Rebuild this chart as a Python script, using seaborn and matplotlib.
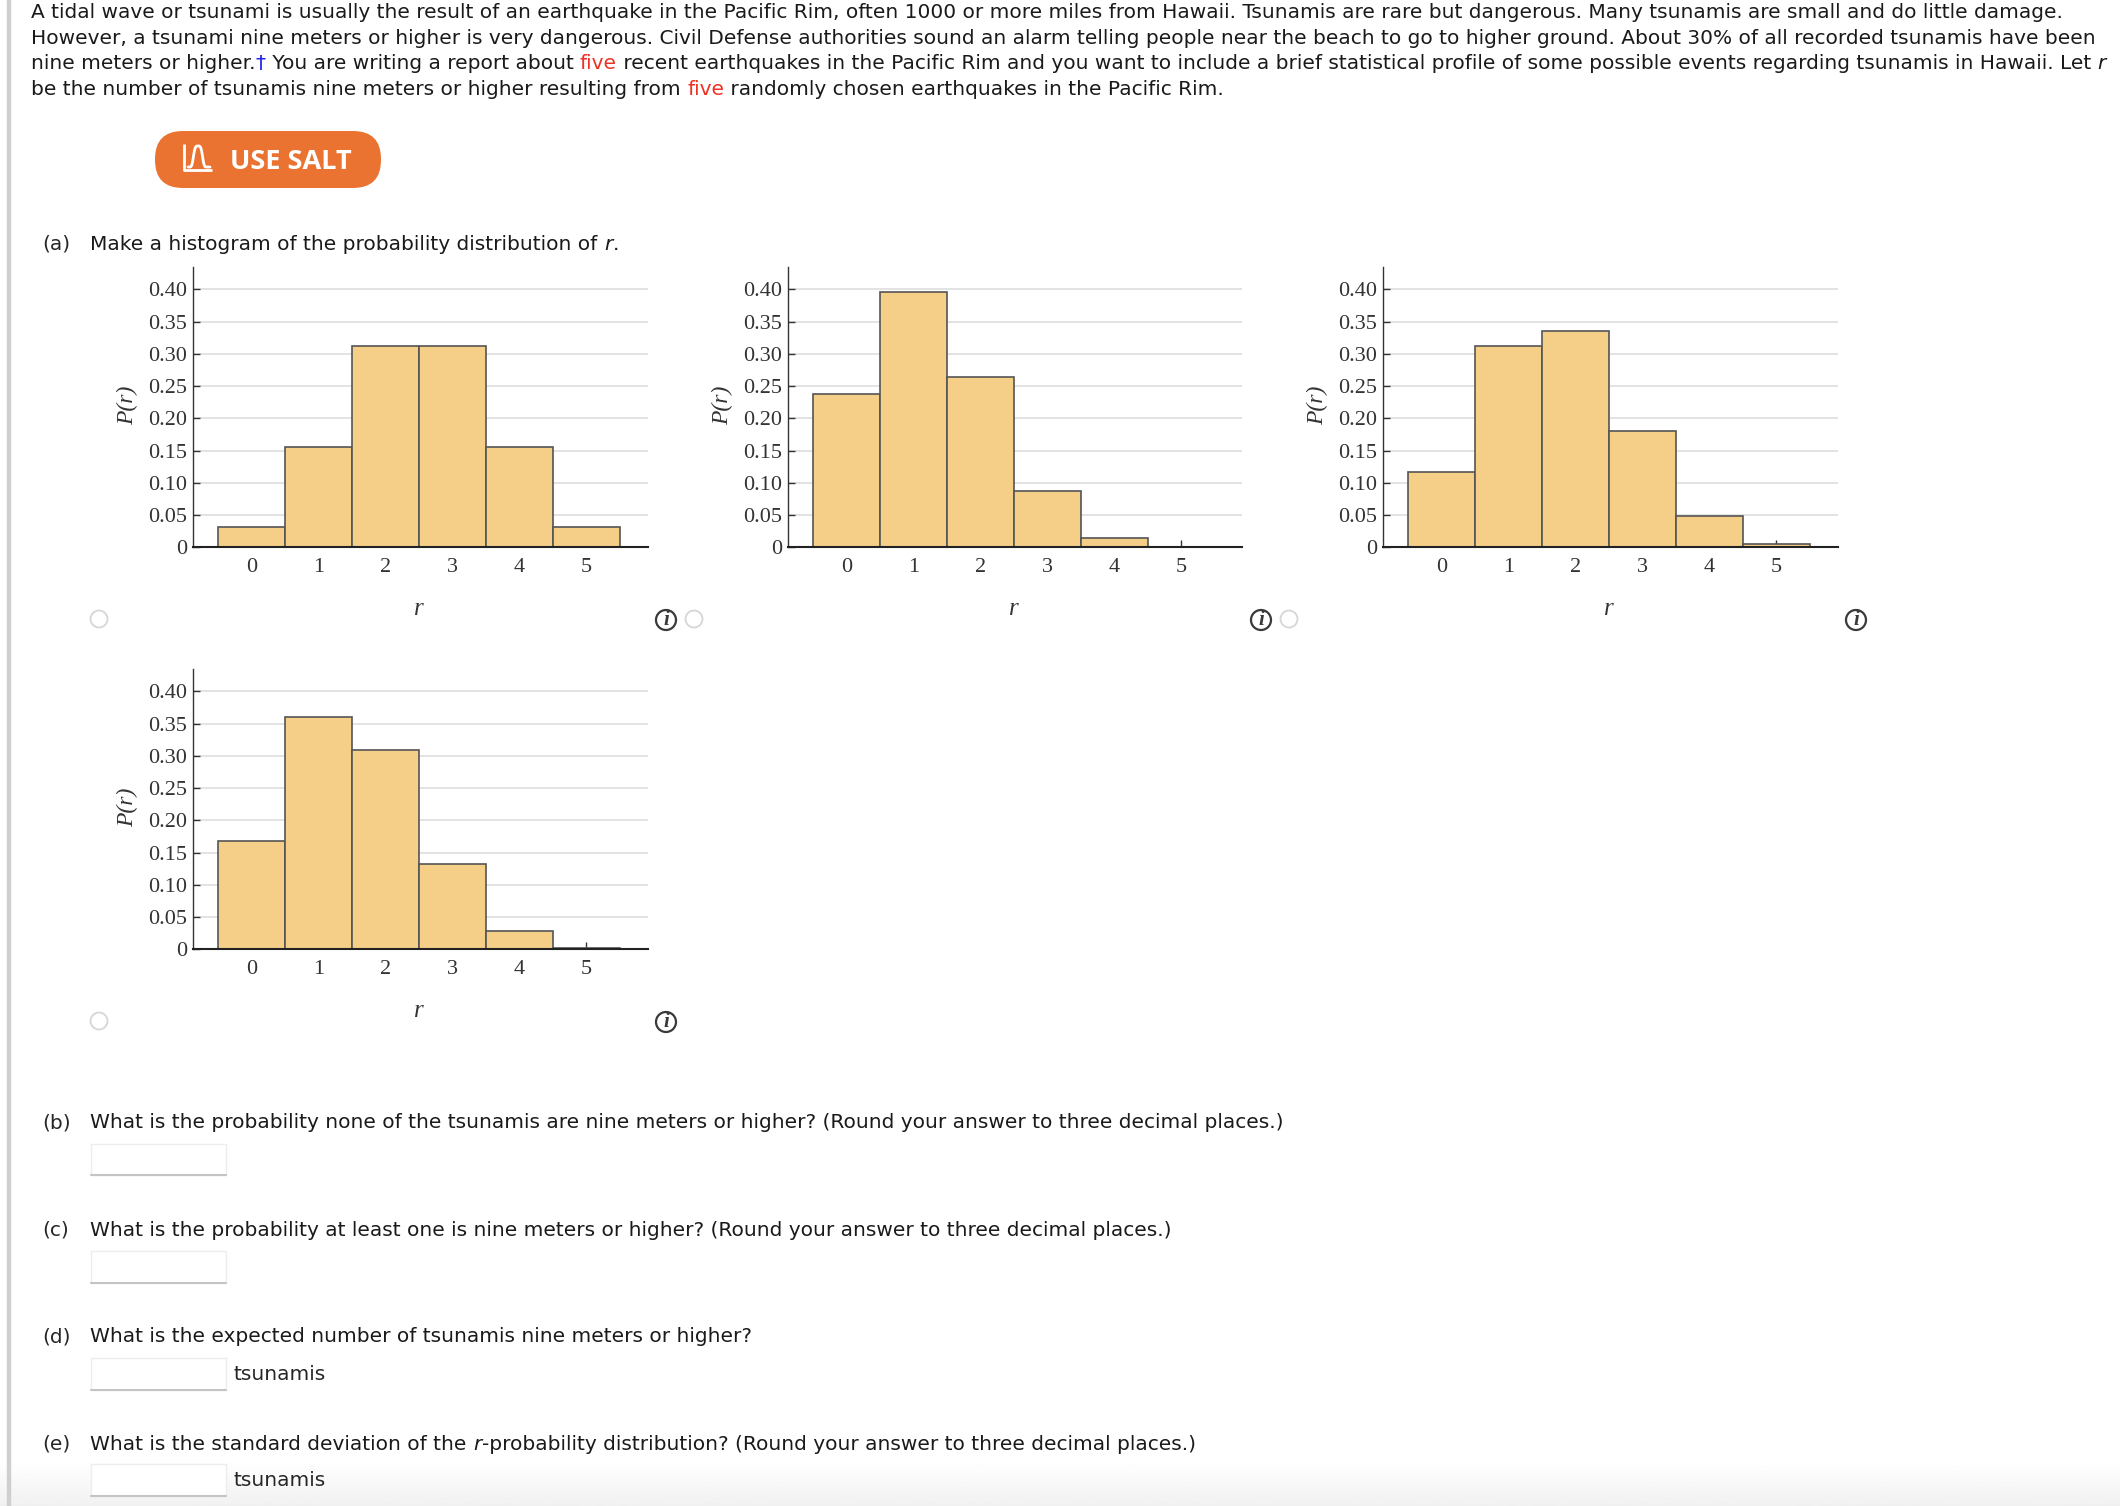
import numpy as np
import matplotlib
matplotlib.use("Agg")
import matplotlib.pyplot as plt
from matplotlib.patches import Circle, FancyBboxPatch, Rectangle
import seaborn as sns

W, H = 2120, 1506

r_values = [0, 1, 2, 3, 4, 5]
p_a = [0.031, 0.156, 0.3125, 0.3125, 0.156, 0.031]
p_b = [0.237, 0.396, 0.264, 0.088, 0.015, 0.001]
p_c = [0.116, 0.312, 0.336, 0.181, 0.049, 0.005]
p_d = [0.168, 0.360, 0.309, 0.132, 0.028, 0.002]
y_ticks = [0, 0.05, 0.10, 0.15, 0.20, 0.25, 0.30, 0.35, 0.40]
y_tick_labels = ["0", "0.05", "0.10", "0.15", "0.20", "0.25", "0.30", "0.35", "0.40"]

BODY = 14.5
RED = "#ee3124"

intro_lines = [
    [("A tidal wave or tsunami is usually the result of an earthquake in the Pacific Rim, often 1000 or more miles from Hawaii. Tsunamis are rare but dangerous. Many tsunamis are small and do little damage.", "k", "normal")],
    [("However, a tsunami nine meters or higher is very dangerous. Civil Defense authorities sound an alarm telling people near the beach to go to higher ground. About 30% of all recorded tsunamis have been", "k", "normal")],
    [("nine meters or higher.", "k", "normal"), ("\u2020", "#2222ee", "normal"), (" You are writing a report about ", "k", "normal"), ("five", RED, "normal"),
     (" recent earthquakes in the Pacific Rim and you want to include a brief statistical profile of some possible events regarding tsunamis in Hawaii. Let ", "k", "normal"), ("r", "k", "italic")],
    [("be the number of tsunamis nine meters or higher resulting from ", "k", "normal"), ("five", RED, "normal"),
     (" randomly chosen earthquakes in the Pacific Rim.", "k", "normal")],
]
intro_y = [12, 38, 63, 89]

sns.set_theme(style="white")
plt.rcParams["font.family"] = ["DejaVu Sans"]
fig = plt.figure(figsize=(W / 100, H / 100), dpi=100, facecolor="white")

# page overlay in pixel coordinates
page = fig.add_axes([0, 0, 1, 1], zorder=0)
page.axis("off")
page.imshow(np.linspace(1, 0.945, 40).reshape(-1, 1), extent=(0, W, H, 1460), cmap="gray",
            vmin=0, vmax=1, aspect="auto", zorder=0)
page.set_xlim(0, W)
page.set_ylim(H, 0)
page.add_patch(Rectangle((7, 0), 2.5, H, color="#cfcfcf", zorder=1))


def runs(x, y, parts, size=BODY):
    rend = fig.canvas.get_renderer()
    for s, c, st in parts:
        page.text(x, y, s, color=c, style=st, fontsize=size, va="center", ha="left", zorder=3)
        probe = page.text(0, 0, s + ".", style=st, fontsize=size)
        dot = page.text(0, 0, ".", style=st, fontsize=size)
        w = probe.get_window_extent(rend).width - dot.get_window_extent(rend).width
        probe.remove()
        dot.remove()
        x += w + (2 if st == "italic" else 0)


for parts, y in zip(intro_lines, intro_y):
    runs(31, y, parts)

# USE SALT button
page.add_patch(FancyBboxPatch((155, 131), 226, 57, boxstyle="round,pad=0,rounding_size=28",
                              fc="#ea7331", ec="none", zorder=2))
page.plot([184, 184, 212], [144, 170, 170], color="white", lw=2, zorder=3, solid_capstyle="butt")
bx = np.linspace(188, 210, 40)
page.plot(bx, 167 - 21 * np.exp(-((bx - 198) / 5.0) ** 4), color="white", lw=2, zorder=3)
page.text(230, 162, "USE SALT", color="white", fontsize=19.5, fontweight="bold", family="Open Sans",
          va="center", ha="left", zorder=3)

# questions
question_rows = [
    (244, "(a)", [("Make a histogram of the probability distribution of ", "k", "normal"), ("r", "k", "italic"), (".", "k", "normal")]),
    (1123, "(b)", [("What is the probability none of the tsunamis are nine meters or higher? (Round your answer to three decimal places.)", "k", "normal")]),
    (1230, "(c)", [("What is the probability at least one is nine meters or higher? (Round your answer to three decimal places.)", "k", "normal")]),
    (1337, "(d)", [("What is the expected number of tsunamis nine meters or higher?", "k", "normal")]),
    (1444, "(e)", [("What is the standard deviation of the ", "k", "normal"), ("r", "k", "italic"),
                    ("-probability distribution? (Round your answer to three decimal places.)", "k", "normal")]),
]
for y, lab, parts in question_rows:
    page.text(42, y, lab, fontsize=BODY, va="center", ha="left", zorder=3)
    runs(90.5, y, parts)

for top, bottom in [(1144, 1175), (1251, 1283), (1358, 1390), (1464, 1496)]:
    page.add_patch(Rectangle((91, top), 135, bottom - top, fc="white", ec="#ededed", lw=1, zorder=2))
    page.plot([91, 226], [bottom, bottom], color="#c4c4c4", lw=1.5, zorder=3)
page.text(234, 1375, "tsunamis", fontsize=BODY, va="center", ha="left", zorder=3)
page.text(234, 1480, "tsunamis", fontsize=BODY, va="center", ha="left", zorder=3)

# histogram panels
SERIF = "Liberation Serif"
AX_L, AX_R, AX_T, AX_B = 193, 647.5, 267, 547.3
DX, DY = 595, 402
panels = [(0, 0, p_a), (1, 0, p_b), (2, 0, p_c), (0, 1, p_d)]
for col, row, vals in panels:
    l = AX_L + col * DX
    b = AX_B + row * DY
    t = AX_T + row * DY
    ax = fig.add_axes([l / W, 1 - b / H, (AX_R - AX_L) / W, (b - t) / H], zorder=2)
    ax.patch.set_alpha(0)
    sns.barplot(x=r_values, y=vals, native_scale=True, width=1.0, color="#f5cf87", saturation=1,
                edgecolor="#555555", linewidth=1.2, ax=ax, zorder=2)
    ax.set_xlim(-0.87, 5.91)
    ax.set_ylim(0, 0.4346)
    ax.set_xticks(r_values)
    ax.set_xticklabels([str(v) for v in r_values], family=SERIF, fontsize=16, color="#333333")
    ax.set_yticks(y_ticks)
    ax.set_yticklabels(y_tick_labels, family=SERIF, fontsize=16, color="#333333")
    ax.tick_params(axis="x", direction="in", length=5, width=1, color="#333333", pad=8, bottom=True)
    ax.tick_params(axis="y", direction="in", length=5, width=1, color="#333333", pad=4, left=True)
    ax.set_axisbelow(True)
    ax.grid(False)
    ax.yaxis.grid(True, color="#e3e3e3", lw=1.4)
    for s in ("top", "right"):
        ax.spines[s].set_visible(False)
    ax.spines["left"].set_color("#333333")
    ax.spines["left"].set_linewidth(1)
    ax.spines["bottom"].set_color("#222222")
    ax.spines["bottom"].set_linewidth(1.5)
    for tick in ax.xaxis.get_major_ticks() + ax.yaxis.get_major_ticks():
        tick.tick1line.set_zorder(5)
    page.text(l - 65, t + 138, "P(r)", family=SERIF, style="italic", fontsize=17, rotation=90,
              va="center", ha="center", color="#333333", zorder=3)
    page.text(l + 226, b + 62, "r", family=SERIF, style="italic", fontsize=18,
              va="center", ha="center", color="#333333", zorder=3)
    # radio button and info icon
    page.add_patch(Circle((99 + col * DX, 619 + row * DY), 8.5, fc="white", ec="#d6d6d6", lw=1.3, zorder=3))
    cx, cy = 666 + col * DX, 620 + row * DY
    page.add_patch(Circle((cx, cy), 10, fc="white", ec="#3a3a3a", lw=1.6, zorder=3))
    page.text(cx, cy, "i", family=SERIF, style="italic", fontweight="bold", fontsize=15,
              ha="center", va="center", color="#3a3a3a", zorder=4)

fig.savefig("out.png", dpi=100)
